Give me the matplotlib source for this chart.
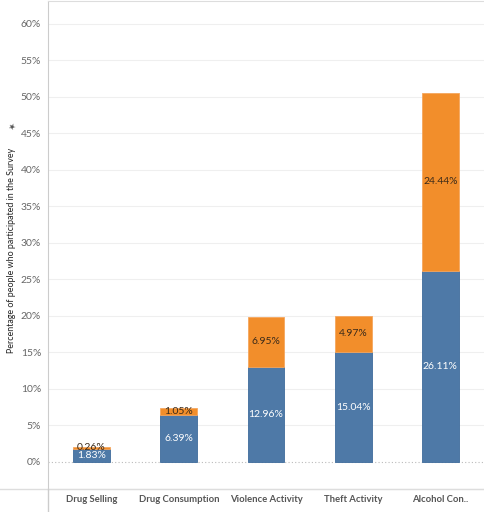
import matplotlib.pyplot as plt
import numpy as np

categories = ['Drug Selling', 'Drug Consumption', 'Violence Activity', 'Theft Activity', 'Alcohol Con..']
blue_vals = [1.83, 6.39, 12.96, 15.04, 26.11]
orange_vals = [0.26, 1.05, 6.95, 4.97, 24.44]
yticks = list(range(0, 61, 5))

plt.rcParams['font.family'] = ['Lato', 'DejaVu Sans']

fig = plt.figure(figsize=(4.84, 5.12), dpi=100)
ax = fig.add_axes([48 / 484, 23 / 512, 1 - 48 / 484, 1 - 24 / 512])

x = np.arange(len(categories))
w = 0.42
ax.bar(x, blue_vals, width=w, color='#4e79a7', edgecolor='#3f6c9c', linewidth=0.6, zorder=3)
ax.bar(x, orange_vals, width=w, bottom=blue_vals, color='#f28e2b', edgecolor='#f5a65e', linewidth=0.6, zorder=3)

for i in range(len(categories)):
    b = blue_vals[i]
    o = orange_vals[i]
    ax.text(x[i], b / 2, f'{b:.2f}%', ha='center', va='center', color='white', fontsize=7.5, zorder=4)
    ax.text(x[i], b + o / 2, f'{o:.2f}%', ha='center', va='center', color='#3a2a1a', fontsize=7.5, zorder=4)

ax.set_xlim(-0.5, len(categories) - 0.5)
ax.set_ylim(-3.7, 63.1)
ax.set_yticks(yticks)
ax.set_yticklabels([f'{t}%' for t in yticks], color='#666666', fontsize=7.5)
ax.set_xticks(x)
ax.set_xticklabels(categories, color='#555555', fontsize=6.8, fontweight='bold')
ax.tick_params(axis='both', length=0)
ax.tick_params(axis='x', pad=4)
ax.tick_params(axis='y', pad=5)

for t in yticks[1:]:
    ax.axhline(t, color='#efefef', linewidth=0.8, zorder=1)
ax.axhline(0, color='#bbbbbb', linewidth=0.8, linestyle=(0, (1, 2)), zorder=2)

ax.spines['right'].set_visible(False)
ax.spines['left'].set_color('#cccccc')
ax.spines['top'].set_color('#dddddd')
ax.spines['bottom'].set_color('#dddddd')

# full-width header divider line and axis line extension
fig.add_artist(plt.Line2D([0, 1], [23 / 512, 23 / 512], color='#dddddd', linewidth=1))
fig.add_artist(plt.Line2D([48 / 484, 48 / 484], [0, 23 / 512], color='#cccccc', linewidth=1))

fig.text(12 / 484, 1 - 250 / 512, 'Percentage of people who participated in the Survey',
         rotation=90, ha='center', va='center', fontsize=6.4, color='#222222')
# small pin icon next to the axis title
fig.text(12 / 484, 1 - 127 / 512, '\u2605', rotation=45, ha='center', va='center',
         fontsize=6, color='#555555', family='DejaVu Sans')

fig.savefig('out.png', dpi=100)
